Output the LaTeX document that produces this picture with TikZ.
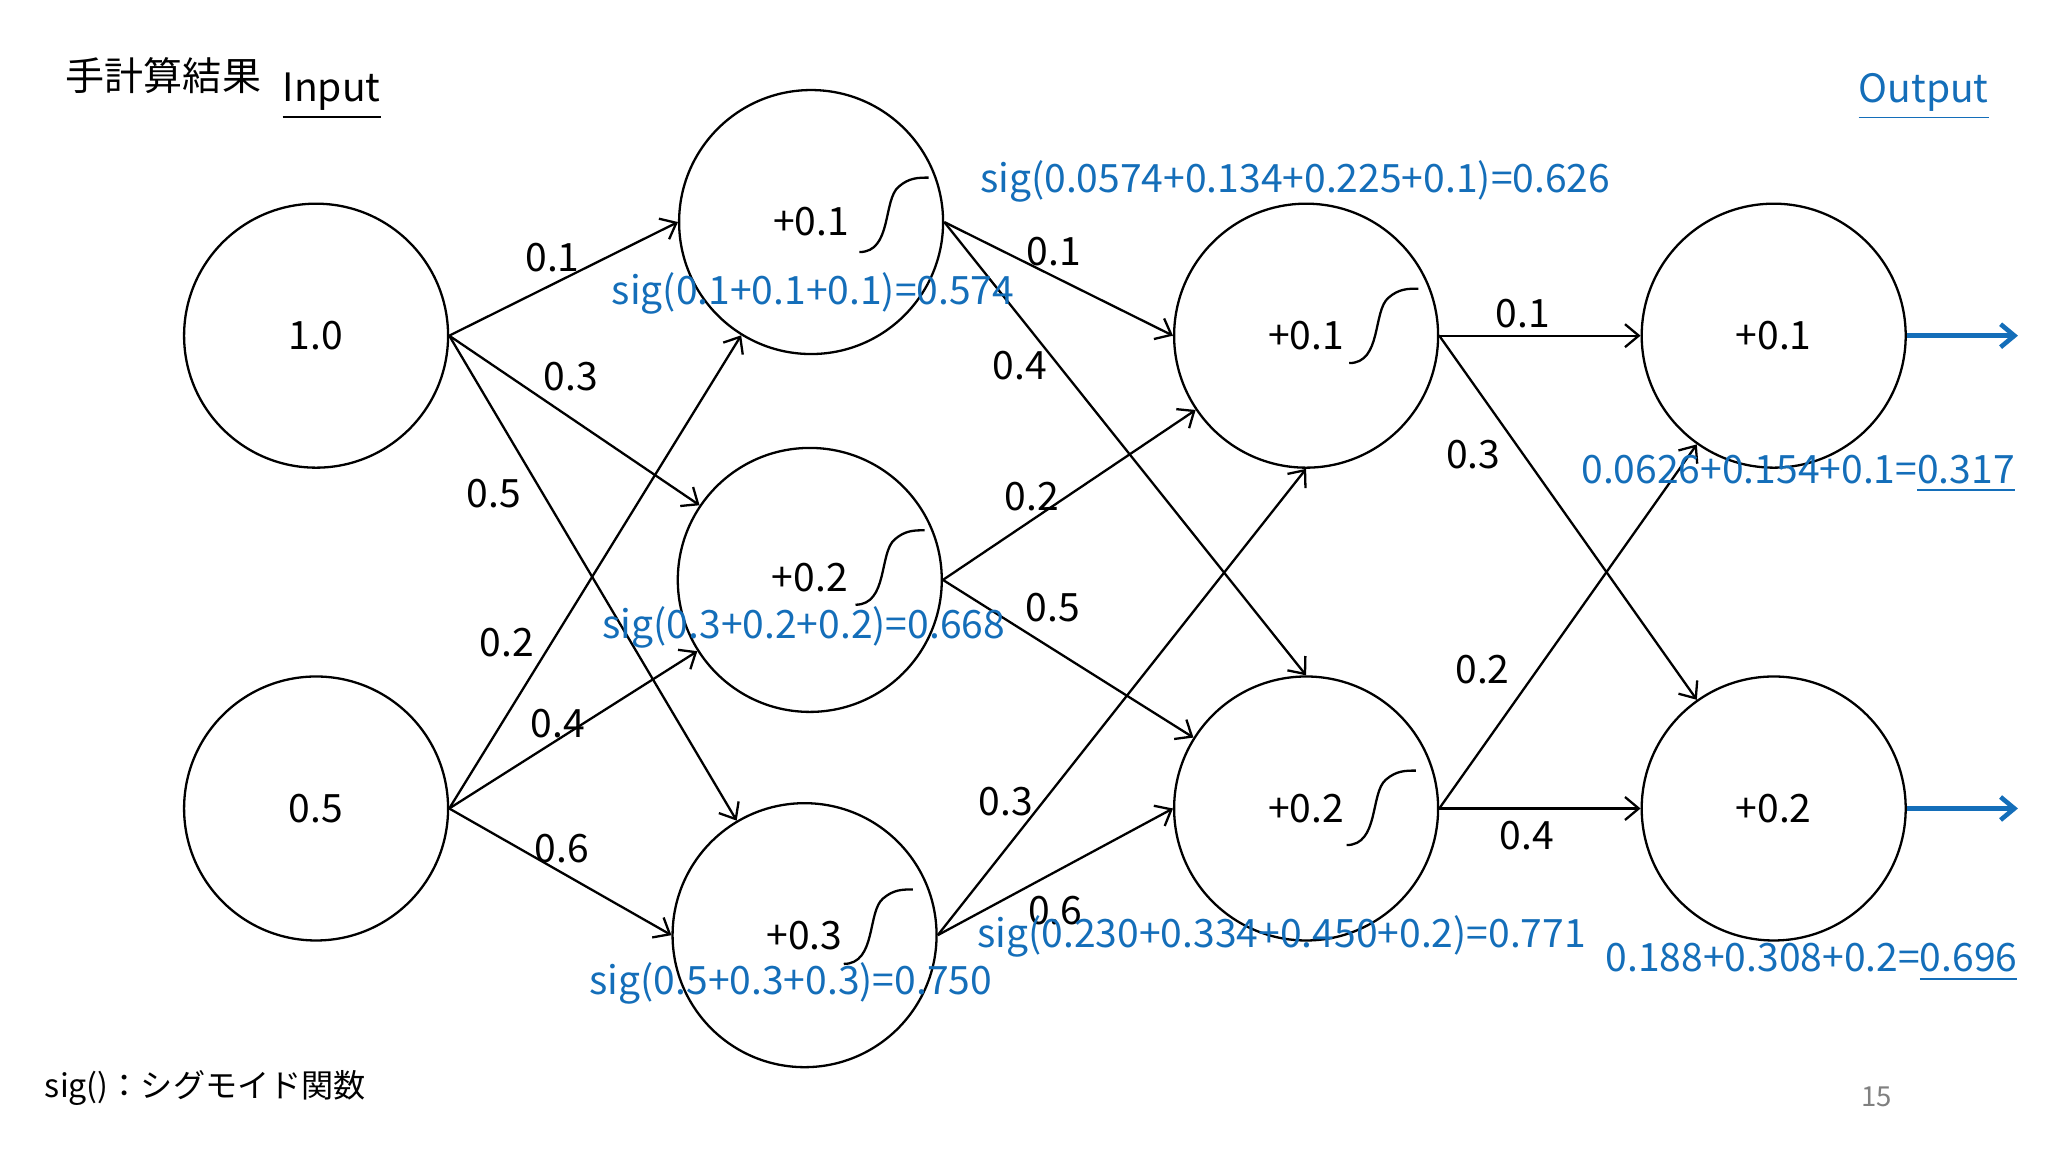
\documentclass[tikz,border=0pt]{standalone}
\usepackage{fontspec}
\setmainfont{Noto Sans CJK JP}
\usetikzlibrary{arrows.meta}
\definecolor{bl}{RGB}{20,110,185}
\begin{document}
\begin{tikzpicture}[x=0.01cm,y=-0.01cm,
 neuron/.style={circle,draw,line width=0.5pt,minimum size=2.02cm,inner sep=0pt,font=\fontsize{8.5}{10}\selectfont},
 conn/.style={-{Straight Barb[length=3pt,width=5pt]},line width=0.5pt},
 wl/.style={font=\fontsize{8.5}{10}\selectfont},
 bt/.style={text=bl,font=\fontsize{8.5}{10}\selectfont},
 sig/.style={line width=0.5pt}]
\useasboundingbox (0,0) rectangle (1568,882);
\node[neuron] (I1) at (242,257) {1.0};
\node[neuron] (I2) at (242,619) {0.5};
\node[neuron] (H1) at (621,170) {};
\node[neuron] (H2) at (620,444) {};
\node[neuron] (H3) at (616,716) {};
\node[neuron] (A) at (1000,257) {};
\node[neuron] (B) at (1000,619) {};
\node[neuron] (O1) at (1358,257) {+0.1};
\node[neuron] (O2) at (1358,619) {+0.2};
\node[wl] (h1t) at (621,170) {+0.1};
\node[wl] (h2t) at (620,442) {+0.2};
\node[wl] (h3t) at (616,716) {+0.3};
\node[wl] (at) at (1000,257) {+0.1};
\node[wl] (bt) at (1000,619) {+0.2};
\foreach \n/\x/\y in {H1/658/193,H2/655/463,H3/646/738,A/1033/278,B/1031/647}{
 \draw[sig] (\x,\y) .. controls (\x+25,\y) and (\x+18,\y-40) .. (\x+30,\y-50) .. controls (\x+38,\y-57) and (\x+45,\y-57) .. (\x+53,\y-57);}
% connectors
\draw[conn] (I1.east) -- (H1.west);
\draw[conn] (I1.east) -- (H2);
\draw[conn] (I1.east) -- (H3);
\draw[conn] (I2.east) -- (H1);
\draw[conn] (I2.east) -- (H2);
\draw[conn] (I2.east) -- (H3.west);
\draw[conn] (H1.east) -- (A.west);
\draw[conn] (H1.east) -- (B.north);
\draw[conn] (H2.east) -- (A);
\draw[conn] (H2.east) -- (B);
\draw[conn] (H3.east) -- (A.south);
\draw[conn] (H3.east) -- (B.west);
\draw[conn] (A.east) -- (O1.west);
\draw[conn] (A.east) -- (O2);
\draw[conn] (B.east) -- (O1);
\draw[conn] (B.east) -- (O2.west);
\coordinate (e1) at (1545,257);
\coordinate (e2) at (1545,619);
\draw[conn,bl,line width=1pt] (O1.east) -- (e1);
\draw[conn,bl,line width=1pt] (O2.east) -- (e2);
% weights
\node[wl] (w1) at (423,197) {0.1};
\node[wl] (w2) at (437,288) {0.3};
\node[wl] (w3) at (378,378) {0.5};
\node[wl] (w4) at (388,492) {0.2};
\node[wl] (w5) at (427,554) {0.4};
\node[wl] (w6) at (430,650) {0.6};
\node[wl] (w7) at (807,193) {0.1};
\node[wl] (w8) at (781,280) {0.4};
\node[wl] (w9) at (790,380) {0.2};
\node[wl] (w10) at (806,465) {0.5};
\node[wl] (w11) at (770,614) {0.3};
\node[wl] (w12) at (808,697) {0.6};
\node[wl] (w13) at (1166,240) {0.1};
\node[wl] (w14) at (1128,348) {0.3};
\node[wl] (w15) at (1135,513) {0.2};
\node[wl] (w16) at (1169,640) {0.4};
% blue
\node[bt,anchor=west] (s1) at (738,139) {sig(0.0574+0.134+0.225+0.1)=0.626};
\node[bt,anchor=west] (s2) at (456,225) {sig(0.1+0.1+0.1)=0.574};
\node[bt,anchor=west] (s3) at (449,480) {sig(0.3+0.2+0.2)=0.668};
\node[bt,anchor=west] (s4) at (736,717) {sig(0.230+0.334+0.450+0.2)=0.771};
\node[bt,anchor=west] (s5) at (439,753) {sig(0.5+0.3+0.3)=0.750};
\node[bt,anchor=east] (o1) at (1555,363) {0.0626+0.154+0.1=\underline{0.317}};
\node[bt,anchor=east] (o2) at (1557,737) {0.188+0.308+0.2=\underline{0.696}};
\node[bt,anchor=east] (out) at (1535,74) {\underline{Output}};
\node[wl,anchor=west] (in) at (204,74) {\underline{Input}};
\node[wl,anchor=west] (title) at (38,58) {手計算結果};
\node[anchor=west,font=\fontsize{7}{9}\selectfont] (note) at (22,833) {sig()：シグモイド関数};
\node[text=gray,font=\fontsize{6}{8}\selectfont] (pg) at (1437,840) {15};
\end{tikzpicture}
\end{document}
